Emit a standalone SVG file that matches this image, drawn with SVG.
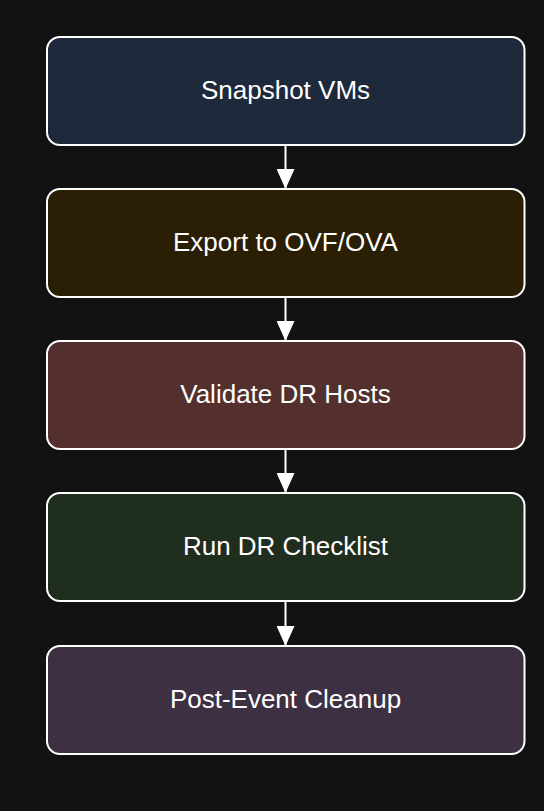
<svg xmlns="http://www.w3.org/2000/svg" width="544" height="811" viewBox="0 0 544 811">
<defs>
<style>
.box{stroke:#ffffff;stroke-width:2}
.lbl{font-family:"Liberation Sans",Arial,sans-serif;font-size:26px;fill:#ffffff;text-anchor:middle}
.edge{stroke:#ffffff;stroke-width:2;fill:none}
</style>
<marker id="arr" viewBox="0 0 20 18" refX="19" refY="9" markerWidth="20" markerHeight="18" markerUnits="userSpaceOnUse" orient="auto">
<path d="M0,0 L20,9 L0,18 Z" fill="#ffffff"/>
</marker>
</defs>
<rect width="544" height="811" fill="#121212"/>
<g id="connectors">
<line class="edge" x1="285.5" y1="146" x2="285.5" y2="188" marker-end="url(#arr)"/>
<line class="edge" x1="285.5" y1="298" x2="285.5" y2="340" marker-end="url(#arr)"/>
<line class="edge" x1="285.5" y1="450" x2="285.5" y2="492" marker-end="url(#arr)"/>
<line class="edge" x1="285.5" y1="602" x2="285.5" y2="645" marker-end="url(#arr)"/>
</g>
<g id="n1">
<rect class="box" x="47" y="37" width="477.5" height="108" rx="13" fill="#1e293b"/>
<text class="lbl" x="285.5" y="99">Snapshot VMs</text>
</g>
<g id="n2">
<rect class="box" x="47" y="189" width="477.5" height="108" rx="13" fill="#2a1f04"/>
<text class="lbl" x="285.5" y="251">Export to OVF/OVA</text>
</g>
<g id="n3">
<rect class="box" x="47" y="341" width="477.5" height="108" rx="13" fill="#53302e"/>
<text class="lbl" x="285.5" y="403">Validate DR Hosts</text>
</g>
<g id="n4">
<rect class="box" x="47" y="493" width="477.5" height="108" rx="13" fill="#1f2e1f"/>
<text class="lbl" x="285.5" y="555">Run DR Checklist</text>
</g>
<g id="n5">
<rect class="box" x="47" y="646" width="477.5" height="108" rx="13" fill="#3c3042"/>
<text class="lbl" x="285.5" y="708">Post-Event Cleanup</text>
</g>
</svg>
